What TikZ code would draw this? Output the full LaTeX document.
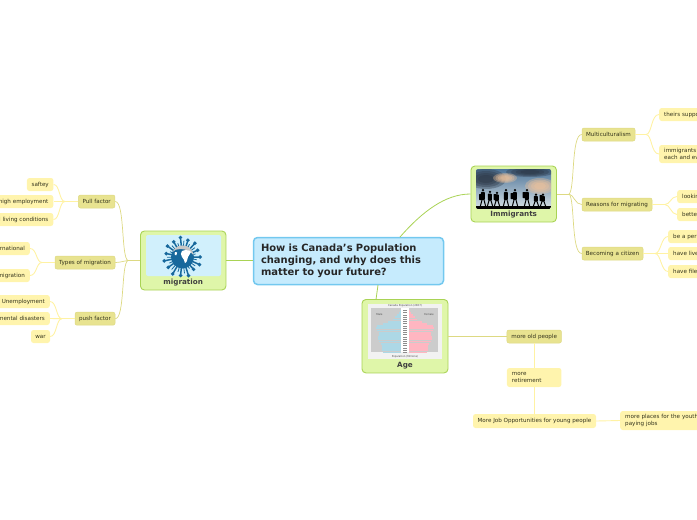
\documentclass[tikz,border=0pt]{standalone}
\usepackage{fontspec}
\setmainfont{DejaVu Sans}

\definecolor{mainfill}{HTML}{C6EBFD}
\definecolor{mainline}{HTML}{73C8EF}
\definecolor{topicfill}{HTML}{DFF6A9}
\definecolor{topicline}{HTML}{A9D355}
\definecolor{branchfill}{HTML}{E8E390}
\definecolor{branchline}{HTML}{DDD982}
\definecolor{leaffill}{HTML}{FFF4AD}
\definecolor{leafline}{HTML}{FFF2A3}
\definecolor{inktext}{HTML}{33331C}
\definecolor{globeblue}{HTML}{17689C}
\definecolor{skytop}{HTML}{4F7599}
\definecolor{skylow}{HTML}{D8E2E6}
\definecolor{skydark}{HTML}{2A3442}
\definecolor{skypeach}{HTML}{F2C49B}
\definecolor{malebar}{HTML}{ADD8E6}
\definecolor{femalebar}{HTML}{FFB6C1}

\tikzset{
    mainq/.style={draw=mainline, line width=1.5pt, fill=mainfill, rounded corners=4pt,
        minimum width=190pt, minimum height=47pt, text width=175pt, align=left,
        font=\bfseries\fontsize{9.95}{12.2}\selectfont, text=black!85, inner sep=0pt},
    topic/.style={draw=topicline, line width=.9pt, fill=topicfill, rounded corners=4pt, inner sep=0pt},
    topiclabel/.style={font=\bfseries\fontsize{7.2}{8}\selectfont, text=black!75, inner sep=0pt},
    branch/.style={draw=branchline, line width=.5pt, fill=branchfill, rounded corners=2pt, inner sep=0pt,
        minimum height=13pt, font=\fontsize{5.6}{6.4}\selectfont, text=inktext},
    leaf/.style={fill=leaffill, rounded corners=2.5pt, inner sep=0pt,
        minimum height=13pt, font=\fontsize{5.6}{6.4}\selectfont, text=inktext, align=left},
    leftcut/.style={leaf, anchor=east, text width=#1, align=right, inner xsep=5pt},
    rightcut/.style={leaf, anchor=west, text width=#1, align=left, inner xsep=5pt},
    topicwire/.style={draw=topicline, line width=.8pt},
    branchwire/.style={draw=branchline, line width=.7pt},
    leafwire/.style={draw=leafline, line width=.9pt},
    tinytext/.style={inner sep=0pt, font=\fontsize{2.6}{3}\selectfont, text=black!70},
}

\begin{document}
\begin{tikzpicture}[x=1pt, y=-1pt]
    \useasboundingbox (0,0) rectangle (697,520);

    \node[mainq] (mainq) at (348.5,261) {How is Canada’s Population\\changing, and why does this\\matter to your future?};

    \node[topic, minimum width=85.5pt, minimum height=59pt] (migration) at (183.2,260.5) {};
    \node[topic, minimum width=85.5pt, minimum height=56pt] (immigrants) at (513.7,194) {};
    \node[topic, minimum width=86pt, minimum height=73.5pt] (age) at (405,336.2) {};
    \node[topiclabel] (migrationlabel) at (183.2,282.5) {migration};
    \node[topiclabel] (immigrantslabel) at (513.7,214.5) {Immigrants};
    \node[topiclabel] (agelabel) at (405,365.5) {Age};

    \fill[fill=cyan!18, rounded corners=2pt] (146,235) rectangle (221,276);
    \foreach \ang/\len in {0/6,24/7,48/5,72/8,96/7,120/8,144/6,168/7,192/5,216/7,240/6,264/8,288/6,312/7,336/5}{
        \draw[globeblue, line width=1.5pt] (182.5,257) ++(\ang:10) -- ++(\ang:\len) ++(\ang:1.6) circle (.9);
        \draw[globeblue, line width=.8pt] (182.5,257) ++(\ang+11:10) -- ++(\ang+11:\len-1.5);
    }
    \fill[globeblue] (182.5,257) circle (11.5);
    \fill[black!22] (172.5,252) .. controls (175,246) and (181,244.5) .. (186,246) .. controls (190,247) and (193,251) .. (193.5,255) .. controls (190,251) and (186,249) .. (180,249) .. controls (177,249) and (174,250) .. (172.5,252);
    \fill[white] (182,251) .. controls (185,249.5) and (190,250) .. (191,252) .. controls (191,254) and (188,255) .. (188,257) .. controls (188,260) and (186,263) .. (185,263) .. controls (184,261) and (184,258) .. (182,257) .. controls (180.5,255) and (180.5,252.5) .. (182,251);
    \fill[white] (175,252) .. controls (177,251) and (178,253) .. (176.5,255) .. controls (175.5,256.5) and (174,255) .. (175,252);

    \begin{scope}
        \clip[rounded corners=2pt] (476,169) rectangle (551,209);
        \shade[top color=skytop, bottom color=skylow] (476,169) rectangle (551,209);
        \foreach \cloudx/\cloudy/\widex/\widey/\tint in {486/179/20/10/skydark,530/172/24/5/skydark,505/178/12/5/skypeach,540/186/15/8/skypeach}
            \foreach \part in {1,.8,.6,.4}
                \fill[\tint, opacity=.35] (\cloudx,\cloudy) ellipse ({\widex*\part} and {\widey*\part});
        \fill[black] (476,206) rectangle (551,208.5);
        \foreach \posx/\high in {483/18,490/16,497/15,506/18,515/18,527/18,536/13,543/13}{
            \fill[black] (\posx,206-\high*.88) circle (1.3);
            \fill[black, rounded corners=.8pt] (\posx-2.2,206-\high*.78) rectangle (\posx+1.8,206-\high*.34);
            \draw[black, line width=1pt] (\posx-.8,206-\high*.38) -- (\posx-2.6,206) (\posx+.8,206-\high*.38) -- (\posx+2.6,206);
        }
        \foreach \posx/\backy in {480.5/197,495/197,512/196,524/195,541/198}
            \fill[black, rounded corners=.6pt] (\posx-1.5,\backy-3) rectangle (\posx+1.5,\backy+3);
    \end{scope}

    \fill[black!5] (367.5,304) rectangle (442,359);
    \fill[black!20] (371,308) rectangle (438,352);
    \fill[white] (400.5,308) rectangle (409,352);
    \foreach \wid [count=\row] in {1,2,4,6,8,13,18,24,25,24,22,22,23,23,22,20,19,19,19,18}{
        \fill[malebar] (400.5-\wid,307.5+\row*2.2) rectangle (400.5,309.4+\row*2.2);
        \fill[femalebar] (409,307.5+\row*2.2) rectangle (409+\wid,309.4+\row*2.2);
        \draw[black!45, line width=.5pt] (403,308.3+\row*2.2) -- (407,308.3+\row*2.2);
    }
    \node[tinytext] (pyramidtitle) at (405,305.8) {Canada Population (2007)};
    \node[tinytext] (pyramidmale) at (379.5,314.5) {Male};
    \node[tinytext] (pyramidfemale) at (429,314.5) {Female};
    \node[tinytext] (pyramidaxis) at (405,357.2) {Population (Millions)};

    \node[branch, minimum width=36.5pt] (pullfactor) at (96.7,201.5) {Pull factor};
    \node[branch, minimum width=60pt] (typesmigration) at (85,262.5) {Types of migration};
    \node[branch, minimum width=40pt] (pushfactor) at (95,318.7) {push factor};

    \node[leaf, minimum width=26.5pt] (saftey) at (40.2,184.5) {saftey};
    \node[leftcut=70pt] (employment) at (53.5,201.5) {high employment};
    \node[leftcut=70pt] (living) at (53.5,219.5) {l living conditions};
    \node[leftcut=47pt] (international) at (30,248.5) {ernational};
    \node[leftcut=47pt] (anymigration) at (30,275.5) {migration};
    \node[leftcut=65pt] (unemployment) at (50,301.5) {Unemployment};
    \node[leftcut=65pt] (disasters) at (50,318.5) {mental disasters};
    \node[leaf, minimum width=19pt] (war) at (40.5,336.5) {war};

    \node[branch, minimum width=53pt] (multicultural) at (608.5,134.5) {Multiculturalism};
    \node[branch, minimum width=70pt] (reasons) at (617,204.5) {Reasons for migrating};
    \node[branch, minimum width=61pt] (citizen) at (612.5,253.5) {Becoming a citizen};

    \node[rightcut=60pt] (theirs) at (659,114.5) {theirs suppo};
    \node[rightcut=60pt, minimum height=18pt] (eachother) at (659,154) {immigrants\\each and ev};
    \node[rightcut=40pt] (looking) at (677,196.5) {lookin};
    \node[rightcut=40pt] (better) at (677,214.5) {better};
    \node[rightcut=50pt] (permanent) at (668,236.5) {be a perm};
    \node[rightcut=50pt] (lived) at (668,253.5) {have live};
    \node[rightcut=50pt] (filed) at (668,271.5) {have filed};

    \node[branch, minimum width=54.5pt] (oldpeople) at (534.2,336.5) {more old people};
    \node[leaf, minimum width=54.5pt, minimum height=19pt, text width=44.5pt] (retirement) at (534.2,377.5) {more\\retirement};
    \node[leaf, minimum width=123pt, minimum height=14pt] (jobs) at (534.5,421) {More Job Opportunities for young people};
    \node[rightcut=80pt, minimum height=19pt] (youthjobs) at (620,420.5) {more places for the youth\\paying jobs};

    \coordinate (mainqtop) at (400,237);
    \coordinate (mainqbottom) at (378,285);
    \coordinate (agetop) at (376,299.5);
    \coordinate (migrationfork) at (128,260.5);
    \coordinate (immigrantsfork) at (569,194);
    \coordinate (pullfork) at (65,201.5);
    \coordinate (typesfork) at (42,262.5);
    \coordinate (pushfork) at (62,318.7);
    \coordinate (multiculturalfork) at (646,134.5);
    \coordinate (reasonsfork) at (665,204.5);
    \coordinate (citizenfork) at (655,253.5);

    \draw[topicwire] (mainq.west |- migration.east) -- (migration.east);
    \draw[topicwire] (mainqtop) .. controls (422,212) and (445,194) .. (immigrants.west);
    \draw[topicwire] (mainqbottom) -- (agetop);

    \draw[branchwire] (migration.west) -- (migrationfork);
    \draw[branchwire] (migrationfork) .. controls (121,258) and (125,201.5) .. (pullfactor.east);
    \draw[branchwire] (migrationfork) .. controls (124,261) and (120,262.5) .. (typesmigration.east);
    \draw[branchwire] (migrationfork) .. controls (121,263) and (125,318.7) .. (pushfactor.east);
    \draw[branchwire] (immigrants.east) -- (immigrantsfork);
    \draw[branchwire] (immigrantsfork) .. controls (575,190) and (571,134.5) .. (multicultural.west);
    \draw[branchwire] (immigrantsfork) .. controls (574,195) and (575,204.5) .. (reasons.west);
    \draw[branchwire] (immigrantsfork) .. controls (575,198) and (571,253.5) .. (citizen.west);
    \draw[branchwire] (age.east |- oldpeople.west) -- (oldpeople.west);

    \draw[leafwire] (pullfactor.west) -- (pullfork);
    \draw[leafwire] (pullfork) .. controls (59,201.5) and (60,184.5) .. (saftey.east);
    \draw[leafwire] (pullfork) -- (employment.east);
    \draw[leafwire] (pullfork) .. controls (59,201.5) and (60,219.5) .. (living.east);
    \draw[leafwire] (typesmigration.west) -- (typesfork);
    \draw[leafwire] (typesfork) .. controls (36,262.5) and (37,248.5) .. (international.east);
    \draw[leafwire] (typesfork) .. controls (36,262.5) and (37,275.5) .. (anymigration.east);
    \draw[leafwire] (pushfactor.west) -- (pushfork);
    \draw[leafwire] (pushfork) .. controls (56,318.7) and (57,301.5) .. (unemployment.east);
    \draw[leafwire] (pushfork) -- (disasters.east);
    \draw[leafwire] (pushfork) .. controls (56,318.7) and (57,336.5) .. (war.east);

    \draw[leafwire] (multicultural.east) -- (multiculturalfork);
    \draw[leafwire] (multiculturalfork) .. controls (652,134.5) and (651,114.5) .. (theirs.west);
    \draw[leafwire] (multiculturalfork) .. controls (652,134.5) and (651,154) .. (eachother.west);
    \draw[leafwire] (reasons.east) -- (reasonsfork);
    \draw[leafwire] (reasonsfork) .. controls (670,204.5) and (671,196.5) .. (looking.west);
    \draw[leafwire] (reasonsfork) .. controls (670,204.5) and (671,214.5) .. (better.west);
    \draw[leafwire] (citizen.east) -- (citizenfork);
    \draw[leafwire] (citizenfork) .. controls (661,253.5) and (661,236.5) .. (permanent.west);
    \draw[leafwire] (citizenfork) -- (lived.west);
    \draw[leafwire] (citizenfork) .. controls (661,253.5) and (661,271.5) .. (filed.west);

    \draw[leafwire] (oldpeople.south) -- (retirement.north);
    \draw[leafwire] (retirement.south) -- (retirement.south |- jobs.north);
    \draw[leafwire] (jobs.east) -- (youthjobs.west);
\end{tikzpicture}
\end{document}
